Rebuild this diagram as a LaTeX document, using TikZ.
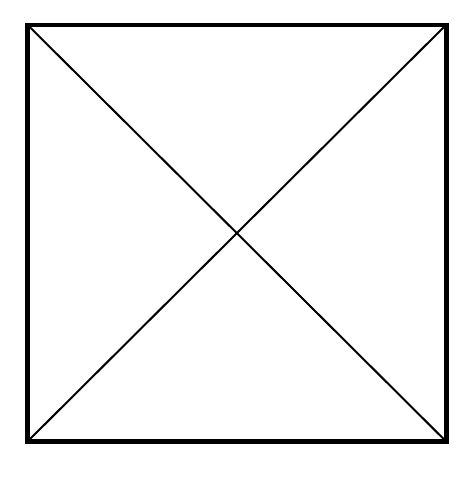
\documentclass[tikz,border=0pt]{standalone}
\begin{document}
\begin{tikzpicture}[x=1pt,y=-1pt,
  frame/.style={draw=black,line width=4.6pt,line join=miter},
  diag/.style={draw=black,line width=2pt}]
\useasboundingbox (0,0) rectangle (474,477);
\coordinate (tl) at (27.5,24.8);
\coordinate (tr) at (446.2,24.8);
\coordinate (br) at (446.2,441.5);
\coordinate (bl) at (27.5,441.5);
\draw[diag] (tl) -- (br);
\draw[diag] (tr) -- (bl);
\draw[frame] (tl) -- (tr) -- (br) -- (bl) -- cycle;
\end{tikzpicture}
\end{document}
